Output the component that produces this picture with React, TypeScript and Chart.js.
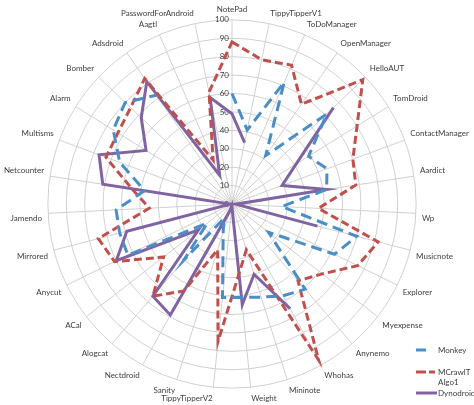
import React, { useEffect, useRef } from "react";
import { Chart, registerables } from "chart.js";

Chart.register(...registerables);

const categories = [
  "NotePad", "TippyTipperV1", "ToDoManager", "OpenManager", "HelloAUT", "TomDroid",
  "ContactManager", "Aardict", "Wp", "Musicnote", "Explorer", "Myexpense", "Anynemo",
  "Whohas", "Mininote", "Weight", "TippyTipperV2", "Sanity", "Nectdroid", "Alogcat",
  "ACal", "Anycut", "Mirrored", "Jamendo", "Netcounter", "Multisms", "Alarm", "Bomber",
  "Adsdroid", "Aagtl", "PasswordForAndroid",
];

const monkey: (number | null)[] = [
  60, 41, 72, 32, 71, 49, 55, 52, 27, 70, 62, 25, 61, 57, 53, 51, 51, 16, 9, 40,
  17, 63, 63, 63, 48, 65, 76, 80, 72, null, null,
];

const mcrawlt = [
  88, 80, 82, 66, 98, 80, 70, 68, 47, 82, 76, 62, 55, 97, 26, 38, 75, 26, 54, 66,
  47, 71, 75, 45, 55, 73, 73, 76, 83, 26, 62,
];

const dynodroid: (number | null)[] = [
  49, 34, null, null, 76, 41, 29, 52, 2, 48, null, null, null, 65, 40, 55, 1, 4, 69, 66,
  23, 70, 59, 1, 71, 77, 55, 68, 81, 17, 59,
];

const tickValues = [0, 10, 20, 30, 40, 50, 60, 70, 80, 90, 100];

const FONT = "Lato, 'Open Sans', sans-serif";
const TEXT = "#3c3c3c";
const BLUE = "#4a8ec8";
const RED = "#c0504d";
const PURPLE = "#8064a2";

const tickPlugin = {
  id: "leftTicks",
  beforeDatasetsDraw(chart: any) {
    const s = chart.scales.r;
    const ctx = chart.ctx;
    ctx.save();
    ctx.font = `8px ${FONT}`;
    ctx.fillStyle = TEXT;
    ctx.textAlign = "right";
    ctx.textBaseline = "middle";
    tickValues.forEach((v) => {
      const d = s.getDistanceFromCenterForValue(v);
      ctx.fillText(String(v), s.xCenter - 3, s.yCenter - d);
    });
    ctx.restore();
  },
};

export default function App() {
  const ref = useRef<HTMLCanvasElement>(null);

  useEffect(() => {
    if (!ref.current) return;
    const chart = new Chart(ref.current, {
      type: "radar",
      data: {
        labels: categories,
        datasets: [
          {
            label: "Monkey",
            data: monkey,
            borderColor: BLUE,
            borderWidth: 3,
            borderDash: [11, 6],
            pointRadius: 0,
            fill: false,
            spanGaps: false,
          },
          {
            label: "MCrawlT Algo1",
            data: mcrawlt,
            borderColor: RED,
            borderWidth: 3,
            borderDash: [8, 4],
            pointRadius: 0,
            fill: false,
          },
          {
            label: "Dynodroid",
            data: dynodroid,
            borderColor: PURPLE,
            borderWidth: 3,
            pointRadius: 0,
            fill: false,
            spanGaps: false,
          },
        ],
      },
      options: {
        animation: false,
        responsive: true,
        maintainAspectRatio: false,
        layout: { padding: { left: 0, right: 0, top: 4, bottom: 0 } },
        plugins: { legend: { display: false }, tooltip: { enabled: false } },
        elements: { line: { tension: 0, borderJoinStyle: "miter" } },
        scales: {
          r: {
            min: 0,
            max: 100,
            ticks: { stepSize: 10, display: false },
            grid: { circular: true, color: "#d0d0d0", lineWidth: 1 },
            angleLines: { color: "#d0d0d0", lineWidth: 1 },
            pointLabels: {
              font: { size: 8, family: FONT },
              color: TEXT,
              padding: 6,
            },
          },
        },
      },
      plugins: [tickPlugin],
    });
    return () => chart.destroy();
  }, []);

  const legendItem = (top: number, color: string, dash: string | undefined, lines: string[]) => (
    <div style={{ position: "absolute", left: 416, top, display: "flex", alignItems: "flex-start" }}>
      <svg width="21" height="10">
        <line x1="0" y1="5" x2="21" y2="5" stroke={color} strokeWidth="3" strokeDasharray={dash} />
      </svg>
      <div style={{ marginLeft: 1, font: `8px ${FONT}`, color: TEXT, lineHeight: "10px", whiteSpace: "nowrap" }}>
        {lines.map((l) => (
          <div key={l}>{l}</div>
        ))}
      </div>
    </div>
  );

  return (
    <div style={{ position: "fixed", left: 0, top: 0, width: 474, height: 405, background: "#fff", overflow: "hidden" }}>
      <canvas ref={ref} style={{ position: "absolute", left: 0, top: 0 }} />
      {legendItem(345, BLUE, "10 11", ["Monkey"])}
      {legendItem(367, RED, "10 3 6 3", ["MCrawlT", "Algo1"])}
      {legendItem(388, PURPLE, undefined, ["Dynodroid"])}
    </div>
  );
}
